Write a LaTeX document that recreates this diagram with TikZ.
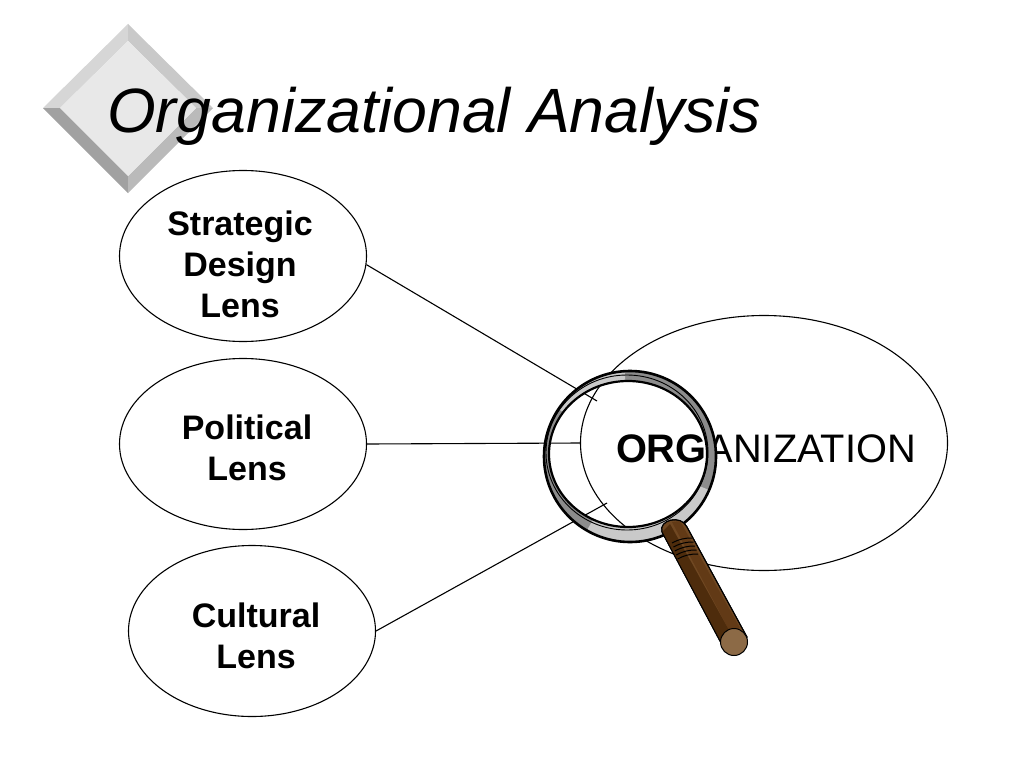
\documentclass[tikz,border=0pt]{standalone}
\usepackage{fontspec}
\setmainfont{Liberation Sans}
\usetikzlibrary{shapes.geometric}
\definecolor{darkwood}{RGB}{78,44,12}
\definecolor{midwood}{RGB}{98,58,22}
\definecolor{lightwood}{RGB}{112,72,34}
\definecolor{endwood}{RGB}{140,106,70}
\tikzset{
    lens/.style={draw, ellipse, line width=1.1pt, inner sep=0pt, minimum width=247pt, minimum height=171pt},
    lenstext/.style={align=center, inner sep=0pt, font=\fontsize{34}{41}\selectfont\bfseries},
    link/.style={line width=1.1pt},
    groove/.style={line width=1pt, bend left=14}
}
\begin{document}
\begin{tikzpicture}[x=1pt, y=-1pt]
    \useasboundingbox (0,0) rectangle (1024,768);

    % bevelled diamond
    \fill[black!16] (128,24) -- (43,108) -- (60,108) -- (128,41) -- cycle;
    \fill[black!21] (128,24) -- (213,108) -- (196,108) -- (128,41) -- cycle;
    \fill[black!37] (43,108) -- (128,193) -- (128,176) -- (60,108) -- cycle;
    \fill[black!27] (213,108) -- (128,193) -- (128,176) -- (196,108) -- cycle;
    \fill[black!9] (128,41) -- (196,108) -- (128,176) -- (60,108) -- cycle;

    \node[anchor=base west, inner sep=0pt, font=\fontsize{62.6}{70}\selectfont\itshape] (title) at (107,132) {Organizational Analysis};

    \node[lens] (strategic) at (243,256) {};
    \node[lens] (political) at (243,444) {};
    \node[lens] (cultural) at (252,631) {};
    \node[draw, ellipse, line width=1.1pt, inner sep=0pt, minimum width=367pt, minimum height=255pt] (org) at (764,443) {};

    \node[lenstext] (strategic-text) at (240,264) {Strategic\\Design\\Lens};
    \node[lenstext] (political-text) at (247,448) {Political\\Lens};
    \node[lenstext] (cultural-text) at (256,636) {Cultural\\Lens};
    \node[inner sep=0pt, font=\fontsize{39.8}{44}\selectfont] (org-text) at (766,449) {\textbf{ORG}ANIZATION};

    \coordinate (strategic-end) at (597,401);
    \coordinate (political-end) at (org.west);
    \coordinate (cultural-end) at (607,503);
    \draw[link] (strategic.-4) -- (strategic-end);
    \draw[link] (political.east) -- (political-end);
    \draw[link] (cultural.east) -- (cultural-end);

    % magnifier ring
    \begin{scope}[even odd rule]
        \clip (630,456.5) ellipse [x radius=86, y radius=85.5] (628,454) ellipse [x radius=79, y radius=73];
        \fill[black!45] (500,300) rectangle (800,600);
        \fill[black!21] (629,457) -- (621,293) -- (491,293) -- (491,363) -- cycle;
        \fill[black!21] (629,457) -- (789,523) -- (789,620) -- (551,620) -- (551,593) -- cycle;
        \draw[line width=0.9pt] (627,452.5) ellipse [x radius=81, y radius=77.5];
    \end{scope}
    \draw[line width=2.6pt] (630,456.5) ellipse [x radius=86, y radius=85.5];
    \draw[line width=2.2pt] (628,454) ellipse [x radius=79, y radius=73];

    % handle
    \draw[line width=1pt, fill=lightwood] (662,532) .. controls (658,520) and (681,514) .. (687,527) -- (747,637) -- (721,643) -- cycle;
    \fill[midwood] (672,522) -- (680,521) -- (740,628) -- (730,632) -- cycle;
    \fill[darkwood] (662,532) -- (670,524) -- (730,632) -- (721,643) -- cycle;
    \draw[line width=1pt] (662,532) .. controls (658,520) and (681,514) .. (687,527) -- (747,637) -- (721,643) -- cycle;
    \foreach \t in {0,1,2,3,4}
        \draw[groove] (672+1.4*\t,543+4*\t) to (692+1.5*\t,538+4*\t);
    \draw[line width=1pt, fill=endwood] (734,642) circle [radius=13.5];
\end{tikzpicture}
\end{document}
